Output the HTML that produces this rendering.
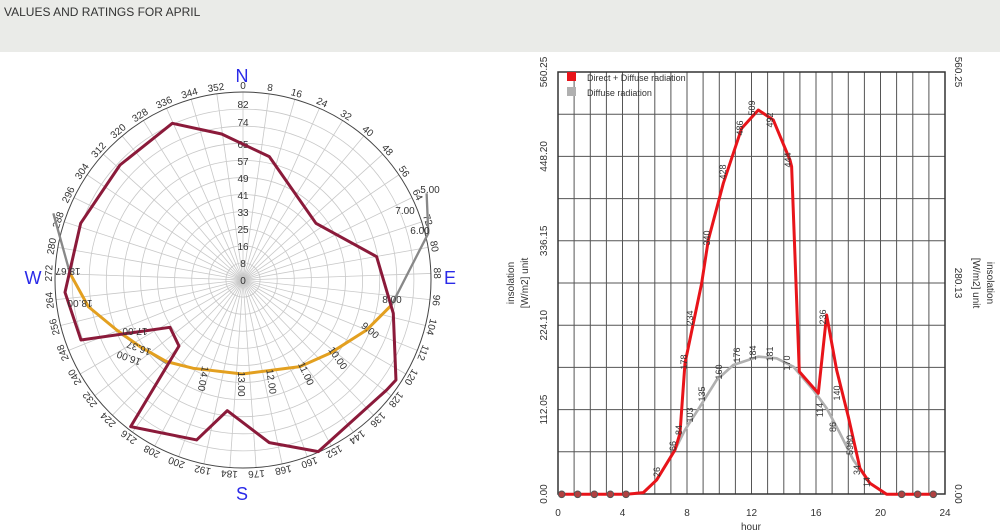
<!DOCTYPE html>
<html><head><meta charset="utf-8"><style>
body{margin:0;width:1000px;height:532px;background:#fff;overflow:hidden;font-family:"Liberation Sans",sans-serif}
.hd{position:absolute;left:0;top:0;width:1000px;height:52px;background:#eaebe8}
.hd span{position:absolute;left:4px;top:5px;font-size:12px;color:#333}
svg{position:absolute;left:0;top:0}
</style></head><body>
<div class="hd"><span>VALUES AND RATINGS FOR APRIL</span></div>
<svg width="1000" height="532" font-family="Liberation Sans, sans-serif">
<!-- polar -->
<g fill="none" stroke="#c8c8c8" stroke-width="0.8">
<circle cx="243" cy="280" r="17.1"/><circle cx="243" cy="280" r="34.2"/><circle cx="243" cy="280" r="51.3"/><circle cx="243" cy="280" r="68.4"/><circle cx="243" cy="280" r="85.5"/><circle cx="243" cy="280" r="102.5"/><circle cx="243" cy="280" r="119.6"/><circle cx="243" cy="280" r="136.7"/><circle cx="243" cy="280" r="153.8"/><circle cx="243" cy="280" r="170.9"/>
<g id="rl">
<line x1="243" y1="280" x2="243" y2="92"/>
<line x1="243" y1="280" x2="243" y2="92" transform="rotate(8 243 280)"/>
<line x1="243" y1="280" x2="243" y2="92" transform="rotate(16 243 280)"/>
<line x1="243" y1="280" x2="243" y2="92" transform="rotate(24 243 280)"/>
<line x1="243" y1="280" x2="243" y2="92" transform="rotate(32 243 280)"/>
<line x1="243" y1="280" x2="243" y2="92" transform="rotate(40 243 280)"/>
<line x1="243" y1="280" x2="243" y2="92" transform="rotate(48 243 280)"/>
<line x1="243" y1="280" x2="243" y2="92" transform="rotate(56 243 280)"/>
<line x1="243" y1="280" x2="243" y2="92" transform="rotate(64 243 280)"/>
</g>
<use href="#rl" transform="rotate(72 243 280)"/>
<use href="#rl" transform="rotate(144 243 280)"/>
<use href="#rl" transform="rotate(216 243 280)"/>
<use href="#rl" transform="rotate(288 243 280)"/>
</g>
<circle cx="243" cy="280" r="188" fill="none" stroke="#444" stroke-width="1"/>
<g font-size="10" fill="#333" text-anchor="middle">
<text x="243" y="284">0</text><text x="243" y="267">8</text><text x="243" y="250">16</text><text x="243" y="233">25</text><text x="243" y="216">33</text><text x="243" y="199">41</text><text x="243" y="182">49</text><text x="243" y="165">57</text><text x="243" y="148">65</text><text x="243" y="126">74</text><text x="243" y="108">82</text>
</g>
<g font-size="10" fill="#333" text-anchor="middle">
<text x="243" y="89">0</text>
<text x="243" y="89" transform="rotate(8 243 280)">8</text><text x="243" y="89" transform="rotate(16 243 280)">16</text><text x="243" y="89" transform="rotate(24 243 280)">24</text><text x="243" y="89" transform="rotate(32 243 280)">32</text><text x="243" y="89" transform="rotate(40 243 280)">40</text><text x="243" y="89" transform="rotate(48 243 280)">48</text><text x="243" y="89" transform="rotate(56 243 280)">56</text><text x="243" y="89" transform="rotate(64 243 280)">64</text><text x="243" y="89" transform="rotate(72 243 280)">72</text><text x="243" y="89" transform="rotate(80 243 280)">80</text><text x="243" y="89" transform="rotate(88 243 280)">88</text><text x="243" y="89" transform="rotate(96 243 280)">96</text><text x="243" y="89" transform="rotate(104 243 280)">104</text><text x="243" y="89" transform="rotate(112 243 280)">112</text><text x="243" y="89" transform="rotate(120 243 280)">120</text><text x="243" y="89" transform="rotate(128 243 280)">128</text><text x="243" y="89" transform="rotate(136 243 280)">136</text><text x="243" y="89" transform="rotate(144 243 280)">144</text><text x="243" y="89" transform="rotate(152 243 280)">152</text><text x="243" y="89" transform="rotate(160 243 280)">160</text><text x="243" y="89" transform="rotate(168 243 280)">168</text><text x="243" y="89" transform="rotate(176 243 280)">176</text><text x="243" y="89" transform="rotate(184 243 280)">184</text><text x="243" y="89" transform="rotate(192 243 280)">192</text><text x="243" y="89" transform="rotate(200 243 280)">200</text><text x="243" y="89" transform="rotate(208 243 280)">208</text><text x="243" y="89" transform="rotate(216 243 280)">216</text><text x="243" y="89" transform="rotate(224 243 280)">224</text><text x="243" y="89" transform="rotate(232 243 280)">232</text><text x="243" y="89" transform="rotate(240 243 280)">240</text><text x="243" y="89" transform="rotate(248 243 280)">248</text><text x="243" y="89" transform="rotate(256 243 280)">256</text><text x="243" y="89" transform="rotate(264 243 280)">264</text><text x="243" y="89" transform="rotate(272 243 280)">272</text><text x="243" y="89" transform="rotate(280 243 280)">280</text><text x="243" y="89" transform="rotate(288 243 280)">288</text><text x="243" y="89" transform="rotate(296 243 280)">296</text><text x="243" y="89" transform="rotate(304 243 280)">304</text><text x="243" y="89" transform="rotate(312 243 280)">312</text><text x="243" y="89" transform="rotate(320 243 280)">320</text><text x="243" y="89" transform="rotate(328 243 280)">328</text><text x="243" y="89" transform="rotate(336 243 280)">336</text><text x="243" y="89" transform="rotate(344 243 280)">344</text><text x="243" y="89" transform="rotate(352 243 280)">352</text>
</g>
<g font-size="18" fill="#2a2ae8" text-anchor="middle">
<text x="242" y="82">N</text><text x="242" y="500">S</text><text x="33" y="284">W</text><text x="450" y="284">E</text>
</g>
<g transform="translate(0,60) scale(0.3333)" fill="none" stroke-linejoin="round">
<polyline stroke="#888" stroke-width="7" points="160,460 210,640"/>
<polyline stroke="#888" stroke-width="7" points="360,820 500,910"/>
<polyline stroke="#888" stroke-width="7" points="1175,735 1285,520 1280,400"/>
<polyline stroke="#e3a020" stroke-width="9" points="1175,735 1100,810 990,880 900,920 727,942 580,925 500,905 420,860 350,810 265,740 210,640"/>
<polygon stroke="#8b1a3a" stroke-width="9" points="517,190 665,222 808,290 948,490 1130,590 1180,760 1188,960 1160,990 955,1175 808,1148 682,1052 590,1140 392,1100 537,858 510,802 243,840 195,697 242,490 360,315"/>
</g>
<g font-size="10" fill="#333" text-anchor="middle">
<text x="392" y="303">8.00</text><text x="420" y="234">6.00</text><text x="430" y="193">5.00</text><text x="405" y="214">7.00</text>
<text x="368" y="333" transform="rotate(40 368 333)">9.00</text><text x="335" y="360" transform="rotate(55 335 360)">10.00</text><text x="303" y="375" transform="rotate(65 303 375)">11.00</text><text x="268" y="382" transform="rotate(82 268 382)">12.00</text><text x="238" y="384" transform="rotate(90 238 384)">13.00</text><text x="200" y="378" transform="rotate(100 200 378)">14.00</text><text x="135" y="328" transform="rotate(180 135 328)">17.00</text><text x="80" y="300" transform="rotate(180 80 300)">18.00</text><text x="68" y="268" transform="rotate(180 68 268)">18.67</text><text x="140" y="345" transform="rotate(200 140 345)">16.37</text><text x="130" y="355" transform="rotate(200 130 355)">16.00</text>
</g>
<!-- right chart -->
<g stroke="#555" stroke-width="1">
<line x1="574.1" y1="72" x2="574.1" y2="494"/><line x1="590.3" y1="72" x2="590.3" y2="494"/><line x1="606.4" y1="72" x2="606.4" y2="494"/><line x1="622.5" y1="72" x2="622.5" y2="494"/><line x1="638.6" y1="72" x2="638.6" y2="494"/><line x1="654.8" y1="72" x2="654.8" y2="494"/><line x1="670.9" y1="72" x2="670.9" y2="494"/><line x1="687" y1="72" x2="687" y2="494"/><line x1="703.1" y1="72" x2="703.1" y2="494"/><line x1="719.3" y1="72" x2="719.3" y2="494"/><line x1="735.4" y1="72" x2="735.4" y2="494"/><line x1="751.5" y1="72" x2="751.5" y2="494"/><line x1="767.6" y1="72" x2="767.6" y2="494"/><line x1="783.8" y1="72" x2="783.8" y2="494"/><line x1="799.9" y1="72" x2="799.9" y2="494"/><line x1="816" y1="72" x2="816" y2="494"/><line x1="832.1" y1="72" x2="832.1" y2="494"/><line x1="848.3" y1="72" x2="848.3" y2="494"/><line x1="864.4" y1="72" x2="864.4" y2="494"/><line x1="880.5" y1="72" x2="880.5" y2="494"/><line x1="896.6" y1="72" x2="896.6" y2="494"/><line x1="912.8" y1="72" x2="912.8" y2="494"/><line x1="928.9" y1="72" x2="928.9" y2="494"/>
<line x1="558" y1="114.2" x2="945" y2="114.2"/><line x1="558" y1="156.4" x2="945" y2="156.4"/><line x1="558" y1="198.6" x2="945" y2="198.6"/><line x1="558" y1="240.8" x2="945" y2="240.8"/><line x1="558" y1="283" x2="945" y2="283"/><line x1="558" y1="325.2" x2="945" y2="325.2"/><line x1="558" y1="367.4" x2="945" y2="367.4"/><line x1="558" y1="409.6" x2="945" y2="409.6"/><line x1="558" y1="451.8" x2="945" y2="451.8"/>
</g>
<rect x="558" y="72" width="387" height="422" fill="none" stroke="#333" stroke-width="1.5"/>
<g transform="translate(500,50) scale(0.3333)" fill="none" stroke-linejoin="round">
<polyline stroke="#b0b0b0" stroke-width="8" points="430,1328 470,1290 525,1200 555,1140 600,1070 650,990 700,945 775,920 830,925 880,950 940,1020 980,1075 1020,1150 1060,1230 1110,1300 1160,1333"/>
<polyline stroke="#e8141a" stroke-width="9" points="185,1333 378,1333 430,1328 470,1290 525,1200 540,1150 555,940 605,700 625,570 670,400 725,235 775,180 820,210 870,330 875,350 898,965 955,1030 980,795 1010,960 1045,1100 1080,1255 1110,1300 1160,1333 1300,1333"/>
<g fill="#b04040" stroke="#555" stroke-width="3"><circle cx="185" cy="1333" r="10"/><circle cx="233" cy="1333" r="10"/><circle cx="283" cy="1333" r="10"/><circle cx="331" cy="1333" r="10"/><circle cx="378" cy="1333" r="10"/><circle cx="1205" cy="1333" r="10"/><circle cx="1253" cy="1333" r="10"/><circle cx="1300" cy="1333" r="10"/></g>
</g>
<rect x="567" y="72" width="9" height="9" fill="#e8141a"/><rect x="567" y="87" width="9" height="9" fill="#b0b0b0"/>
<g font-size="9" fill="#333"><text x="587" y="81">Direct + Diffuse radiation</text><text x="587" y="96">Diffuse radiation</text></g>
<g font-size="10" fill="#333" text-anchor="middle">
<text x="558" y="516">0</text><text x="622.5" y="516">4</text><text x="687" y="516">8</text><text x="751.5" y="516">12</text><text x="816" y="516">16</text><text x="880.5" y="516">20</text><text x="945" y="516">24</text><text x="751" y="530">hour</text>
<text transform="translate(547,494) rotate(-90)">0.00</text><text transform="translate(547,409.6) rotate(-90)">112.05</text><text transform="translate(547,325.2) rotate(-90)">224.10</text><text transform="translate(547,240.8) rotate(-90)">336.15</text><text transform="translate(547,156.4) rotate(-90)">448.20</text><text transform="translate(547,72) rotate(-90)">560.25</text>
<text transform="translate(514,283) rotate(-90)">insolation</text><text transform="translate(528,283) rotate(-90)">[W/m2] unit</text>
<text transform="translate(955,494) rotate(90)">0.00</text><text transform="translate(955,283) rotate(90)">280.13</text><text transform="translate(955,72) rotate(90)">560.25</text>
<text transform="translate(987,283) rotate(90)">insolation</text><text transform="translate(973,283) rotate(90)">[W/m2] unit</text>
</g>
<g font-size="9" fill="#333" text-anchor="middle">
<text transform="translate(755,108) rotate(-90)">509</text><text transform="translate(743,128) rotate(-90)">486</text><text transform="translate(773,120) rotate(-90)">492</text><text transform="translate(791,160) rotate(-90)">444</text><text transform="translate(726,172) rotate(-90)">428</text><text transform="translate(710,238) rotate(-90)">340</text><text transform="translate(693,318) rotate(-90)">234</text><text transform="translate(687,362) rotate(-90)">178</text><text transform="translate(826,317) rotate(-90)">236</text><text transform="translate(840,393) rotate(-90)">140</text><text transform="translate(740,355) rotate(-90)">176</text><text transform="translate(756,353) rotate(-90)">184</text><text transform="translate(773,354) rotate(-90)">181</text><text transform="translate(790,363) rotate(-90)">170</text><text transform="translate(722,372) rotate(-90)">160</text><text transform="translate(705,394) rotate(-90)">135</text><text transform="translate(693,415) rotate(-90)">103</text><text transform="translate(682,430) rotate(-90)">84</text><text transform="translate(676,446) rotate(-90)">66</text><text transform="translate(660,472) rotate(-90)">26</text><text transform="translate(836,427) rotate(-90)">86</text><text transform="translate(823,410) rotate(-90)">114</text><text transform="translate(853,445) rotate(-90)">5960</text><text transform="translate(860,470) rotate(-90)">34</text><text transform="translate(870,482) rotate(-90)">14</text>
</g>
</svg>
</body></html>
